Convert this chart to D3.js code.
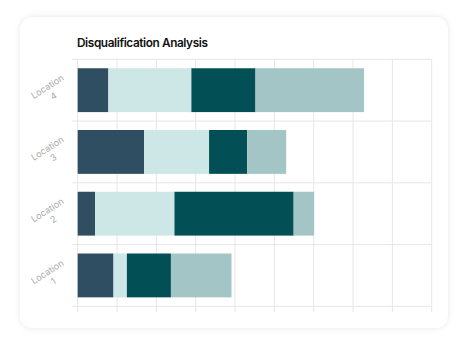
<!DOCTYPE html>
<html>
<head>
<meta charset="utf-8">
<script src="https://cdn.jsdelivr.net/npm/d3@7"></script>
<style>
  body { margin:0; background:#fff; font-family: Inter, "DejaVu Sans", sans-serif; }
  .card { position:absolute; left:20px; top:17px; width:428px; height:311px; background:#fff;
          border-radius:12px; box-shadow:0 0 6px rgba(0,0,0,0.10); }
  svg { position:absolute; left:0; top:0; }
</style>
</head>
<body>
<div class="card"></div>
<div class="canvas"></div>
<script>
// stacked bar data
const locations = ["Location 1", "Location 2", "Location 3", "Location 4"]
const seriesA = [9.1, 4.4, 16.9, 7.8]
const seriesB = [3.4, 20.2, 16.5, 21.1]
const seriesC = [11.2, 30.3, 9.7, 16.3]
const seriesD = [15.4, 5.2, 9.9, 27.6]
const keys = ["a", "b", "c", "d"]
const colors = ["#2f4e62", "#cde6e6", "#034f56", "#a3c5c5"]
const xTicks = [0, 10, 20, 30, 40, 50, 60, 70, 80, 90]

let dim = { width: 354, height: 247 };
let svg = d3.select(".canvas").append("svg").attr("width", 474).attr("height", 362);

svg.append("text").attr("x", 77).attr("y", 47)
  .attr("font-size", 11.8).attr("font-weight", 600).attr("letter-spacing", -0.4).attr("fill", "#111")
  .text("Disqualification Analysis");

let graph = svg.append("g").attr("transform", "translate(77.7,59.3)");

const rows = locations.map((loc, i) => ({ loc, a: seriesA[i], b: seriesB[i], c: seriesC[i], d: seriesD[i] }))
const stack = d3.stack().keys(keys)(rows)

const x = d3.scaleLinear().domain([0, 90]).range([0, dim.width])
const y = d3.scaleBand().domain(locations.slice().reverse()).range([0, dim.height]).paddingInner(0.29).paddingOuter(0.145)

// vertical grid + bottom ticks
graph.selectAll(".vgrid").data(xTicks).enter().append("line")
  .attr("x1", d => x(d)).attr("x2", d => x(d))
  .attr("y1", 0).attr("y2", dim.height + 6)
  .attr("stroke", "#e6e6e6").attr("stroke-width", 1)

// horizontal band borders
const borders = [0, 1, 2, 3, 4].map(i => i * dim.height / 4)
graph.selectAll(".hgrid").data(borders).enter().append("line")
  .attr("x1", -6).attr("x2", dim.width)
  .attr("y1", d => d).attr("y2", d => d)
  .attr("stroke", "#e6e6e6").attr("stroke-width", 1)

graph.selectAll(".layer").data(stack).enter().append("g")
  .attr("fill", (d, i) => colors[i])
  .selectAll("rect").data(d => d).enter().append("rect")
  .attr("x", d => x(d[0]))
  .attr("width", d => x(d[1]) - x(d[0]))
  .attr("y", d => y(d.data.loc))
  .attr("height", y.bandwidth())

// rotated labels
const lab = graph.selectAll(".lab").data(locations).enter().append("text")
  .attr("transform", d => `translate(-28,${y(d) + y.bandwidth() / 2}) rotate(-33)`)
  .attr("text-anchor", "middle").attr("font-size", 9).attr("fill", "#aaa")
lab.append("tspan").attr("x", 0).attr("dy", -1).text(d => d.split(" ")[0])
lab.append("tspan").attr("x", 0).attr("dy", 11).text(d => d.split(" ")[1])
</script>
</body>
</html>
